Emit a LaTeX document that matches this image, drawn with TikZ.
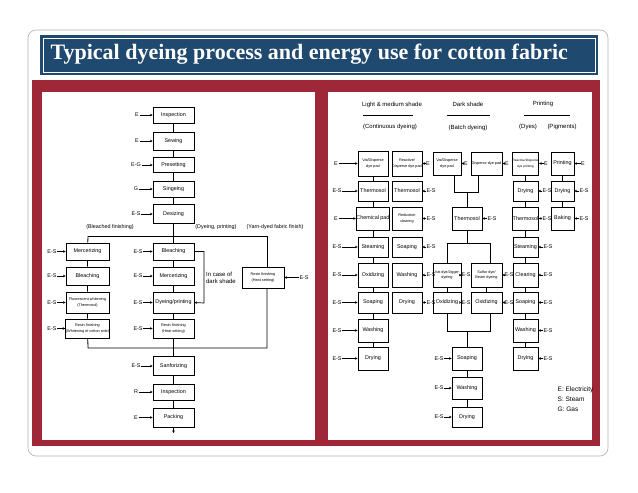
\documentclass[tikz,border=0pt]{standalone}
\usepackage{fontspec}
\setmainfont{Liberation Serif}
\newfontfamily\sk{Liberation Sans}
\usetikzlibrary{arrows.meta}
\definecolor{tblue}{RGB}{31,73,110}
\definecolor{fred}{RGB}{158,40,56}
\tikzset{
 bx/.style={draw,line width=0.8pt,inner sep=0.3pt,align=center,font=\sk\fontsize{5.4}{5.8}\selectfont},
 lb/.style={inner sep=0.5pt,font=\sk\fontsize{5.4}{6}\selectfont},
 hd/.style={inner sep=0.5pt,font=\sk\fontsize{6}{7}\selectfont},
 ar/.style={-{Stealth[length=2.5pt,width=2.5pt]},line width=0.7pt},
 ln/.style={line width=0.8pt}
}
\newcommand\sm[1]{{\fontsize{3.8}{4.2}\selectfont #1}}
\newcommand\bx[6]{\node[bx,minimum width=#4pt,minimum height=#5pt] (#1) at (#2,#3) {#6};}
\newcommand\el[5]{\node[lb] (#1) at (#2,#3) {#4}; \draw[ar] (#1) -- (#5);}
\begin{document}
\begin{tikzpicture}[x=1pt,y=-1pt]
\useasboundingbox (0,0) rectangle (638,493);
\fill[white] (0,0) rectangle (638,493);
\draw[gray!60,line width=0.6pt,rounded corners=8pt] (28,30) rectangle (608,456);
% title
\node[fill=tblue,minimum width=558pt,minimum height=40pt,inner sep=0pt] (title) at (319,55) {};
\draw[white,line width=0.8pt] (43,38) rectangle (595,72);
\node[text=white,anchor=west,font=\bfseries\fontsize{22}{24}\selectfont] (ttext) at (47,54) {Typical dyeing process and energy use for cotton fabric};
% frame
\fill[fred] (32,80) rectangle (600,446);
\fill[white] (42,92) rectangle (315,440);
\fill[white] (328,92) rectangle (592,440);
% ===== left panel =====
\bx{in1}{173.5}{115}{41}{16}{Inspection}
\bx{sew}{173.5}{141}{41}{18}{Sewing}
\bx{pre}{173.5}{165}{41}{15}{Presetting}
\bx{sin}{173.5}{189}{41}{16}{Singeing}
\bx{des}{173.5}{214}{41}{19}{Desizing}
\draw[ln] (in1)--(sew) (sew)--(pre) (pre)--(sin) (sin)--(des);
\el{l1}{137}{115}{E}{in1}
\el{l2}{137}{141}{E}{sew}
\el{l3}{136}{165}{E-G}{pre}
\el{l4}{136}{189}{G}{sin}
\el{l5}{136}{214}{E-S}{des}
\coordinate (bl) at (88,236); \coordinate (br) at (267,236);
\draw[ln] (des)--(173.5,236) (bl)--(br);
\node[lb] (h1) at (110,227) {(Bleached finishing)};
\node[lb] (h2) at (216,227) {(Dyeing, printing)};
\node[lb] (h3) at (275,227) {(Yarn-dyed fabric finish)};
% left column
\bx{mer1}{87.5}{251.5}{43}{17}{Mercerizing}
\bx{ble1}{87.5}{276}{43}{18}{Bleaching}
\bx{flu}{87.5}{302.5}{43}{21}{\sm{Fluorescent whitening}\\\sm{(Thermosol)}}
\bx{res1}{87.5}{328.5}{43}{19}{\sm{Resin finishing}\\\sm{(Whitening of cotton side)}}
\draw[ln] (bl)--(mer1) (mer1)--(ble1) (ble1)--(flu) (flu)--(res1);
\el{m1}{52}{251.5}{E-S}{mer1}
\el{m2}{52}{276}{E-S}{ble1}
\el{m3}{52}{302.5}{E-S}{flu}
\el{m4}{52}{328.5}{E-S}{res1}
% middle column
\bx{ble2}{173.5}{251.5}{41}{17}{Bleaching}
\bx{mer2}{173.5}{276}{41}{18}{Mercerizing}
\bx{dye}{173.5}{302.5}{41}{21}{Dyeing/printing}
\bx{res2}{173.5}{328.5}{41}{19}{\sm{Resin finishing}\\\sm{(Heat setting)}}
\draw[ln] (173.5,236)--(ble2) (ble2)--(mer2) (mer2)--(dye) (dye)--(res2);
\el{n1}{138}{251.5}{E-S}{ble2}
\el{n2}{138}{276}{E-S}{mer2}
\el{n3}{138}{302.5}{E-S}{dye}
\el{n4}{138}{328.5}{E-S}{res2}
\draw[ar] (ble2.east)--(204,251.5)--(204,303)--(dye.east);
\node[lb,align=left,font=\sk\fontsize{6}{7}\selectfont] (dk) at (221,278) {In case of\\dark shade};
% right column
\bx{res3}{263}{277.5}{42}{21}{\sm{Resin finishing}\\\sm{(Heat setting)}}
\draw[ln] (br)--(267,267);
\el{r1}{304}{277.5}{E-S}{res3}
\coordinate (ml) at (88,348); \coordinate (mr) at (267,348);
\draw[ln] (res1)--(ml)--(mr)--(267,288) (res2)--(173.5,348);
% bottom
\bx{san}{173.5}{366}{41}{19}{Sanforizing}
\bx{in2}{173.5}{392}{41}{16}{Inspection}
\bx{pac}{173.5}{417.5}{41}{19}{Packing}
\coordinate (pend) at (173.5,433);
\draw[ln] (173.5,348)--(san) (san)--(in2) (in2)--(pac);
\draw[ar] (pac)--(pend);
\el{b1}{136}{366}{E-S}{san}
\el{b2}{136}{392}{R}{in2}
\el{b3}{136}{417.5}{E}{pac}
% ===== right panel =====
\node[hd] (ha) at (392,105) {Light \& medium shade};
\draw[ln] (363,115)--(413,115);
\node[hd] (ha2) at (390,127) {(Continuous dyeing)};
\node[hd] (hb) at (468,104) {Dark shade};
\draw[ln] (447,115)--(490,115);
\node[hd] (hb2) at (468,128) {(Batch dyeing)};
\node[hd] (hc) at (543,104) {Printing};
\draw[ln] (524,115)--(570,115);
\node[hd] (hc2) at (528,127) {(Dyes)};
\node[hd] (hc3) at (562,127) {(Pigments)};
% column A
\bx{a1}{373}{163.5}{30}{25}{\sm{Vat/Disperse}\\\sm{dye pad}}
\bx{a2}{373}{191}{30}{20}{Thermosol}
\bx{a3}{373}{218.5}{30}{23}{Chemical pad}
\bx{a4}{373}{247}{30}{20}{Steaming}
\bx{a5}{373}{275}{30}{24}{Oxidizing}
\bx{a6}{373}{302.5}{30}{21}{Soaping}
\bx{a7}{373}{330.5}{30}{23}{Washing}
\bx{a8}{373}{358.5}{30}{23}{Drying}
\draw[ln] (a1)--(a2) (a2)--(a3) (a3)--(a4) (a4)--(a5) (a5)--(a6) (a6)--(a7) (a7)--(a8);
\el{la1}{336}{163.5}{E}{a1}
\el{la2}{337}{191}{E-S}{a2}
\el{la3}{336}{218.5}{E}{a3}
\el{la4}{337}{247}{E-S}{a4}
\el{la5}{337}{275}{E-S}{a5}
\el{la6}{337}{302.5}{E-S}{a6}
\el{la7}{337}{330.5}{E-S}{a7}
\el{la8}{337}{358.5}{E-S}{a8}
% column B
\bx{b1x}{407}{163.5}{30}{25}{\sm{Reactive/}\\\sm{Disperse dye pad}}
\bx{b2x}{407}{191}{30}{20}{Thermosol}
\bx{b3x}{407}{218.5}{30}{23}{\sm{Reduction}\\\sm{clearing}}
\bx{b4x}{407}{247}{30}{20}{Soaping}
\bx{b5x}{407}{275}{30}{24}{Washing}
\bx{b6x}{407}{302.5}{30}{21}{Drying}
\el{lb1}{428}{163.5}{E}{b1x}
\el{lb2}{431}{191}{E-S}{b2x}
\el{lb3}{431}{218.5}{E-S}{b3x}
\el{lb4}{431}{247}{E-S}{b4x}
\el{lb5}{431}{275}{E-S}{b5x}
\el{lb6}{431}{302.5}{E-S}{b6x}
% column C / D
\bx{c1}{447}{163.5}{28}{23}{\sm{Vat/Disperse}\\\sm{dye pad}}
\bx{d1}{486.5}{163.5}{31}{23}{\sm{Disperse dye pad}}
\el{lc1}{466}{163.5}{E}{c1}
\el{ld1}{507}{163.5}{E}{d1}
\bx{th}{467}{218.5}{30}{23}{Thermosol}
\el{lth}{492}{218.5}{E-S}{th}
\draw[ln] (454,175)--(454,192)--(478,192)--(478,175) (467,192)--(th);
\coordinate (sl) at (447,243); \coordinate (sr) at (490,243);
\draw[ln] (th)--(467,243) (sl)--(sr);
\bx{c5}{447}{275}{28}{24}{\sm{Vat dye/Jigger}\\\sm{dyeing}}
\bx{c6}{447}{302.5}{28}{21}{Oxidizing}
\bx{d5}{486.5}{275}{31}{24}{\sm{Sulfur dye/}\\\sm{Beam dyeing}}
\bx{d6}{486.5}{302.5}{31}{21}{Oxidizing}
\draw[ln] (sl)--(c5) (sr)--(490,263) (c5)--(c6) (d5)--(d6);
\el{lc5}{466}{275}{E-S}{c5}
\el{lc6}{466}{302.5}{E-S}{c6}
\el{ld5}{509}{275}{E-S}{d5}
\el{ld6}{509}{302.5}{E-S}{d6}
\coordinate (jl) at (447,331); \coordinate (jr) at (490,331);
\draw[ln] (c6)--(jl)--(jr)--(490,313);
\bx{m1x}{467}{358.5}{30}{23}{Soaping}
\bx{m2x}{467}{388}{30}{22}{Washing}
\bx{m3x}{467}{417}{30}{20}{Drying}
\draw[ln] (467,331)--(m1x) (m1x)--(m2x) (m2x)--(m3x);
\el{lm1}{439}{358.5}{E-S}{m1x}
\el{lm2}{439}{388}{E-S}{m2x}
\el{lm3}{439}{417}{E-S}{m3x}
% column E
\bx{e1}{525.5}{163.5}{25}{23}{{\fontsize{3.2}{3.6}\selectfont Reactive/Disperse}\\{\fontsize{3.2}{3.6}\selectfont dye printing}}
\bx{e2}{525.5}{191}{25}{20}{Drying}
\bx{e3}{525.5}{218.5}{25}{23}{Thermosol}
\bx{e4}{525.5}{247}{25}{20}{Steaming}
\bx{e5}{525.5}{275}{25}{24}{Clearing}
\bx{e6}{525.5}{302.5}{25}{21}{Soaping}
\bx{e7}{525.5}{330.5}{25}{23}{Washing}
\bx{e8}{525.5}{358.5}{25}{23}{Drying}
\draw[ln] (e1)--(e2) (e2)--(e3) (e3)--(e4) (e4)--(e5) (e5)--(e6) (e6)--(e7) (e7)--(e8);
\el{le1}{546}{163.5}{E}{e1}
\el{le2}{547}{191}{E-S}{e2}
\el{le3}{547}{218.5}{E-S}{e3}
\el{le4}{548}{247}{E-S}{e4}
\el{le5}{548}{275}{E-S}{e5}
\el{le6}{548}{302.5}{E-S}{e6}
\el{le7}{548}{330.5}{E-S}{e7}
\el{le8}{548}{358.5}{E-S}{e8}
% column F
\bx{f1}{562.5}{163.5}{23}{23}{Printing}
\bx{f2}{562.5}{191}{23}{20}{Drying}
\bx{f3}{562.5}{218.5}{23}{23}{Baking}
\draw[ln] (f1)--(f2) (f2)--(f3);
\el{lf1}{583}{163.5}{E}{f1}
\el{lf2}{584}{191}{E-S}{f2}
\el{lf3}{584}{218.5}{E-S}{f3}
% legend
\node[hd,anchor=west,align=left,font=\sk\fontsize{6.5}{7}\selectfont] (leg) at (557,399) {E: Electricity\\[3pt]S: Steam\\[3pt]G: Gas};
\end{tikzpicture}
\end{document}
